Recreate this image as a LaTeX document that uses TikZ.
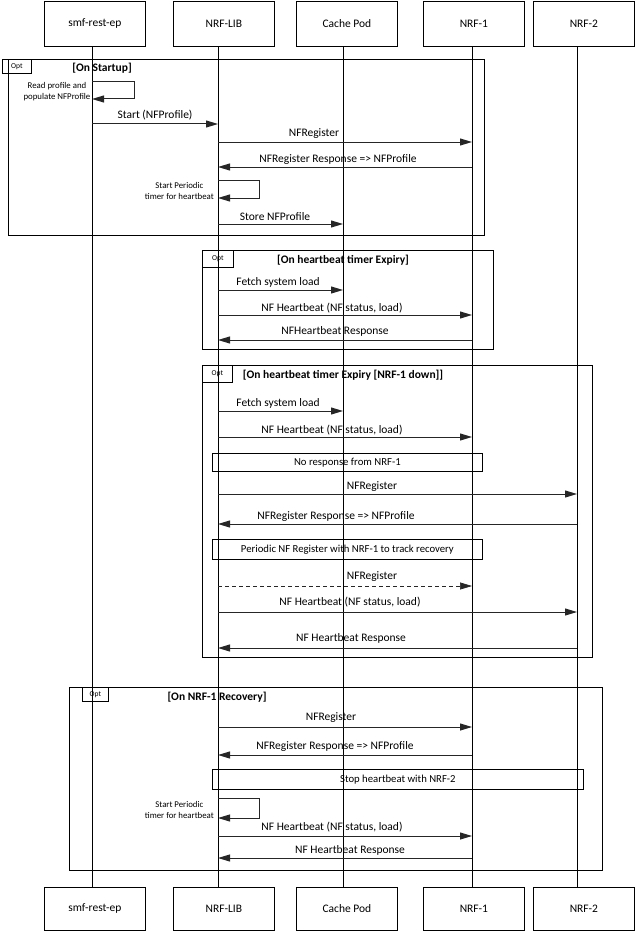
\documentclass[tikz,border=0pt]{standalone}
\usepackage{fontspec}
\setmainfont{Carlito}
\usetikzlibrary{arrows.meta}
\begin{document}
\begin{tikzpicture}[x=1pt,y=-1pt,
  actor/.style={draw=black,line width=0.8pt,minimum width=101pt,inner sep=0pt,anchor=north west,font=\fontsize{11.5}{13}\selectfont},
  life/.style={line width=0.8pt},
  frm/.style={draw,line width=0.9pt},
  tag/.style={draw,line width=0.7pt,inner sep=0pt,anchor=north west,font=\fontsize{7.5}{8}\selectfont},
  ttl/.style={font=\bfseries\fontsize{11.5}{13}\selectfont,inner sep=0pt},
  msg/.style={line width=1pt,draw=black!85,-{Triangle[length=12pt,width=7pt]}},
  lbl/.style={font=\fontsize{11.5}{13}\selectfont,inner sep=0pt},
  small/.style={font=\fontsize{8.8}{11}\selectfont,inner sep=0pt,align=center},
  notebox/.style={draw,line width=0.8pt,inner sep=0pt,anchor=north west,font=\fontsize{10.7}{12}\selectfont}
]
\useasboundingbox (0,0) rectangle (635,931);

% lifeline x positions
\coordinate (L1) at (92,0);
\coordinate (L2) at (218,0);
\coordinate (L3) at (343,0);
\coordinate (L4) at (472,0);
\coordinate (L5) at (577,0);

% actor boxes
\node[actor,minimum height=45pt] (t1) at (44,1) {smf-rest-ep};
\node[actor,minimum height=45pt] (t2) at (173,1) {NRF-LIB};
\node[actor,minimum height=45pt] (t3) at (296,1) {Cache Pod};
\node[actor,minimum height=45pt] (t4) at (423,1) {NRF-1};
\node[actor,minimum height=45pt] (t5) at (533,1) {NRF-2};
\node[actor,minimum height=43pt] (b1) at (44,887) {smf-rest-ep};
\node[actor,minimum height=43pt] (b2) at (173,887) {NRF-LIB};
\node[actor,minimum height=43pt] (b3) at (296,887) {Cache Pod};
\node[actor,minimum height=43pt] (b4) at (423,887) {NRF-1};
\node[actor,minimum height=43pt] (b5) at (533,887) {NRF-2};

% frames
\draw[frm] (8,59) rectangle (484,235);
\node[tag,minimum width=29pt,minimum height=14pt] (o1) at (2,59) {Opt};
\node[ttl] (f1) at (102,68) {[On Startup]};

\draw[frm] (202,250) rectangle (493,349);
\node[tag,minimum width=31pt,minimum height=17pt] (o2) at (202,250) {Opt};
\node[ttl] (f2) at (343,260) {[On heartbeat timer Expiry]};

\draw[frm] (202,365) rectangle (592,657);
\node[tag,minimum width=30pt,minimum height=17pt] (o3) at (202,365) {Opt};
\node[ttl] (f3) at (343,375) {[On heartbeat timer Expiry [NRF-1 down]]};

\draw[frm] (69,687) rectangle (602,870);
\node[tag,minimum width=26pt,minimum height=14pt] (o4) at (82,687) {Opt};
\node[ttl] (f4) at (217,697) {[On NRF-1 Recovery]};

% note boxes
\node[notebox,minimum width=270pt,minimum height=18pt] (n1) at (212,453) {No response from NRF-1};
\node[notebox,minimum width=270pt,minimum height=20pt] (n2) at (212,539) {Periodic NF Register with NRF-1 to track recovery};
\node[notebox,minimum width=371pt,minimum height=20pt] (n3) at (212,769) {Stop heartbeat with NRF-2};

% lifelines
\foreach \i in {1,...,5}{
  \draw[life] (t\i.south -| L\i) -- (b\i.north -| L\i);
}

% ---- On Startup
\draw[msg] (L1 |- 0,82) -- (134,82) -- (134,99) -- (L1 |- 0,99);
\node[small] (s1) at (57,91.5) {Read profile and\\populate NFProfile};
\draw[msg] (L1 |- 0,124) -- (L2 |- 0,124);
\node[lbl] (m1) at (155,115) {Start (NFProfile)};
\draw[msg] (L2 |- 0,142) -- (L4 |- 0,142);
\node[lbl] (m2) at (314,134) {NFRegister};
\draw[msg] (L4 |- 0,167) -- (L2 |- 0,167);
\node[lbl] (m3) at (338,159) {NFRegister Response => NFProfile};
\draw[msg] (L2 |- 0,180) -- (259,180) -- (259,198) -- (L2 |- 0,198);
\node[small,anchor=east] (s2) at (214,190.5) {Start Periodic\\timer for heartbeat};
\draw[msg] (L2 |- 0,224) -- (L3 |- 0,224);
\node[lbl] (m4) at (275,217) {Store NFProfile};

% ---- On heartbeat timer Expiry
\draw[msg] (L2 |- 0,290) -- (L3 |- 0,290);
\node[lbl] (m5) at (278,282) {Fetch system load};
\draw[msg] (L2 |- 0,315) -- (L4 |- 0,315);
\node[lbl] (m6) at (332,308) {NF Heartbeat (NF status, load)};
\draw[msg] (L4 |- 0,340) -- (L2 |- 0,340);
\node[lbl] (m7) at (335,331) {NFHeartbeat Response};

% ---- NRF-1 down
\draw[msg] (L2 |- 0,411) -- (L3 |- 0,411);
\node[lbl] (m8) at (278,403) {Fetch system load};
\draw[msg] (L2 |- 0,437) -- (L4 |- 0,437);
\node[lbl] (m9) at (332,430) {NF Heartbeat (NF status, load)};
\draw[msg] (L2 |- 0,494) -- (L5 |- 0,494);
\node[lbl] (m10) at (372,487) {NFRegister};
\draw[msg] (L5 |- 0,524) -- (L2 |- 0,524);
\node[lbl] (m11) at (336,516) {NFRegister Response => NFProfile};
\draw[msg,dashed,dash pattern=on 4pt off 3pt,line width=0.7pt] (L2 |- 0,586) -- (L4 |- 0,586);
\node[lbl] (m12) at (372,577) {NFRegister};
\draw[msg] (L2 |- 0,612) -- (L5 |- 0,612);
\node[lbl] (m13) at (350,602) {NF Heartbeat (NF status, load)};
\draw[msg] (L5 |- 0,648) -- (L2 |- 0,648);
\node[lbl] (m14) at (351,638) {NF Heartbeat Response};

% ---- NRF-1 Recovery
\draw[msg] (L2 |- 0,727) -- (L4 |- 0,727);
\node[lbl] (m15) at (331,718) {NFRegister};
\draw[msg] (L4 |- 0,755) -- (L2 |- 0,755);
\node[lbl] (m16) at (335,746) {NFRegister Response => NFProfile};
\draw[msg] (L2 |- 0,798) -- (259,798) -- (259,818) -- (L2 |- 0,818);
\node[small,anchor=east] (s3) at (214,810) {Start Periodic\\timer for heartbeat};
\draw[msg] (L2 |- 0,836) -- (L4 |- 0,836);
\node[lbl] (m17) at (332,827) {NF Heartbeat (NF status, load)};
\draw[msg] (L4 |- 0,858) -- (L2 |- 0,858);
\node[lbl] (m18) at (350,850) {NF Heartbeat Response};

\end{tikzpicture}
\end{document}
